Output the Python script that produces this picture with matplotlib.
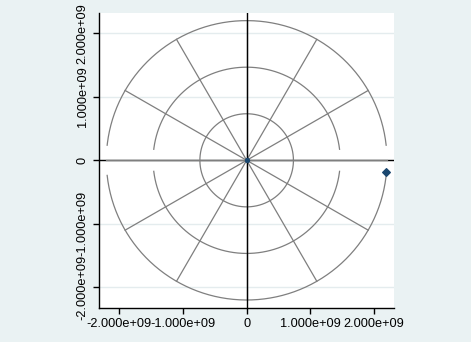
import numpy as np
import matplotlib
matplotlib.use("Agg")
import matplotlib.pyplot as plt

# data
point_x = [2.18e9]
point_y = [-0.185e9]
center_x = [0.0]
center_y = [0.0]
circle_radii = [0.7333e9, 1.4667e9, 2.2e9]
circle_gap_deg = [0.0, 6.8, 6.2]
spoke_angles_deg = [0, 30, 60, 90, 120, 150, 180, 210, 240, 270, 300, 330]
spoke_length = 2.2e9
xticks = [-2e9, -1e9, 0, 1e9, 2e9]
xticklabels = ["-2.000e+09", "-1.000e+09", "0", "1.000e+09", "2.000e+09"]
yticks = [-2e9, -1e9, 0, 1e9, 2e9]
yticklabels = ["-2.000e+09", "-1.000e+09", "0", "1.000e+09", "2.000e+09"]

BG = "#EAF2F3"
GRAY = "#7f7f7f"
NAVY = "#1a476f"

plt.rcParams['font.family'] = ['Liberation Sans', 'DejaVu Sans']

fig = plt.figure(figsize=(4.71, 3.42), dpi=100, facecolor=BG)
ax = fig.add_axes([99/471, 34/342, 295/471, 295/342])
ax.set_facecolor("white")

ax.set_xlim(-2.315e9, 2.31e9)
ax.set_ylim(-2.326e9, 2.32e9)

# gridlines
for yv in yticks:
    ax.axhline(yv, color="#e4ecee", lw=1.0, zorder=0)

# reference lines
ax.axhline(0, color="black", lw=1.0, zorder=1)

# circles
for r, g in zip(circle_radii, circle_gap_deg):
    if g == 0:
        segs = [(0, 360)]
    else:
        segs = [(g, 180 - g), (180 + g, 360 - g)]
    for a0, a1 in segs:
        t = np.radians(np.linspace(a0, a1, 200))
        ax.plot(r * np.cos(t), r * np.sin(t), color=GRAY, lw=0.9, zorder=2)

# spokes
for a in spoke_angles_deg:
    t = np.radians(a)
    ax.plot([0, spoke_length * np.cos(t)], [0, spoke_length * np.sin(t)],
            color=GRAY, lw=0.9, zorder=2)

ax.axvline(0, color="black", lw=1.0, zorder=3)

# markers
ax.scatter(center_x, center_y, s=8, marker="o", color=NAVY, zorder=4)
ax.scatter(point_x, point_y, s=15, marker="D", color=NAVY, zorder=4)

ax.set_xticks(xticks)
ax.set_xticklabels(xticklabels)
ax.set_yticks(yticks)
ax.set_yticklabels(yticklabels, rotation=90, va="center")

for s in ["top", "right"]:
    ax.spines[s].set_visible(False)
for s in ["left", "bottom"]:
    ax.spines[s].set_linewidth(1.0)
    ax.spines[s].set_color("black")

ax.tick_params(axis="both", length=4.5, width=1.0, labelsize=9.2, pad=3)

fig.savefig("out.png", dpi=100, facecolor=BG)
